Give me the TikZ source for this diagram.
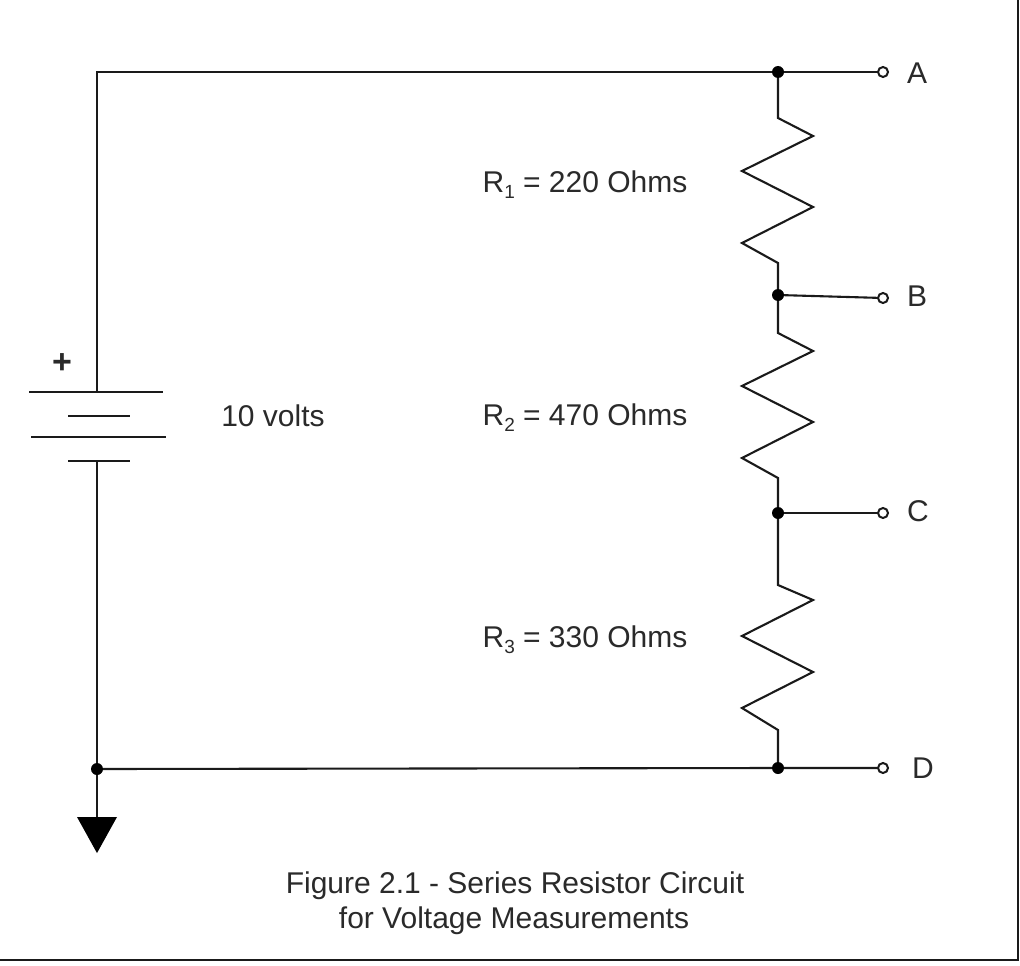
\documentclass[tikz,border=0pt]{standalone}
\usepackage{fontspec}
\setmainfont{Liberation Sans}
\usetikzlibrary{shapes.geometric}
\definecolor{ink}{HTML}{1A1A1A}
\definecolor{txt}{HTML}{2A2A2A}
\tikzset{
  wire/.style={draw=ink,line width=2.1pt,line join=miter},
  plate/.style={draw=ink,line width=2pt},
  junction/.style={circle,fill=black,inner sep=0pt,minimum size=12pt},
  terminal/.style={circle,draw=ink,fill=white,line width=2pt,inner sep=0pt,minimum size=10pt},
  lbl/.style={font=\fontsize{30}{34}\selectfont,text=txt,inner sep=0pt,anchor=base},
  edge line/.style={draw=ink,line width=2pt}
}
\newcommand{\subdigit}[1]{\raisebox{-6pt}{\fontsize{19}{22}\selectfont #1}}
\begin{document}
\begin{tikzpicture}[x=1pt,y=-1pt]
\useasboundingbox (0,0) rectangle (1020,966);
\fill[white] (0,0) rectangle (1020,966);
\draw[edge line] (0,960) -- (1018,960) -- (1018,0);
% battery plates
\coordinate (p1l) at (29,392); \coordinate (p1r) at (163,392);
\coordinate (p2l) at (68,416); \coordinate (p2r) at (130,416);
\coordinate (p3l) at (31,437); \coordinate (p3r) at (166,437);
\coordinate (p4l) at (68,461); \coordinate (p4r) at (130,461);
\draw[plate] (p1l) -- (p1r);
\draw[plate] (p2l) -- (p2r);
\draw[plate] (p3l) -- (p3r);
\draw[plate] (p4l) -- (p4r);
\coordinate (battop) at (97,392); \coordinate (batbot) at (97,461);
\coordinate (corner) at (97,72);
\coordinate (gndtop) at (97,817);
% junctions and terminals
\node[junction] (ja) at (778,72) {};
\node[junction] (jb) at (778,295) {};
\node[junction] (jc) at (778,513) {};
\node[junction] (jd) at (778,768) {};
\node[junction] (jg) at (97,769) {};
\node[terminal] (ta) at (883,72) {};
\node[terminal] (tb) at (883,298) {};
\node[terminal] (tc) at (883,513) {};
\node[terminal] (td) at (883,768) {};
% wires
\draw[wire] (battop) -- (corner) -- (ja) -- (ta);
\draw[wire] (batbot) -- (jg) -- (gndtop);
\draw[wire] (jg) -- (jd) -- (td);
\draw[wire] (jb) -- (tb);
\draw[wire] (jc) -- (tc);
% ground
\node[isosceles triangle,isosceles triangle apex angle=58,shape border rotate=-90,fill=black,inner sep=0pt,minimum height=36pt,minimum width=40pt,anchor=north,outer sep=0pt] (gnd) at (97,817) {};
% resistors
\draw[wire] (ja) -- (778,118) -- (813,136) -- (742,171) -- (813,207) -- (742,243) -- (778,263) -- (jb);
\draw[wire] (jb) -- (778,333) -- (813,351) -- (742,386) -- (813,422) -- (742,458) -- (778,478) -- (jc);
\draw[wire] (jc) -- (778,585) -- (813,600) -- (742,636) -- (813,672) -- (742,708) -- (778,730) -- (jd);
% labels
\node[lbl,font=\fontsize{34}{38}\bfseries\selectfont] (plus) at (62,373) {+};
\node[lbl] (volts) at (273,426) {10 volts};
\node[lbl] (r1) at (585,192) {R\subdigit{1} = 220 Ohms};
\node[lbl] (r2) at (585,425) {R\subdigit{2} = 470 Ohms};
\node[lbl] (r3) at (585,647) {R\subdigit{3} = 330 Ohms};
\node[lbl] (la) at (917,83) {A};
\node[lbl] (lb) at (917,306) {B};
\node[lbl] (lc) at (918,521) {C};
\node[lbl] (ld) at (923,778) {D};
\node[lbl] (cap1) at (515,893) {Figure 2.1 - Series Resistor Circuit};
\node[lbl] (cap2) at (514,928) {for Voltage Measurements};
\end{tikzpicture}
\end{document}
